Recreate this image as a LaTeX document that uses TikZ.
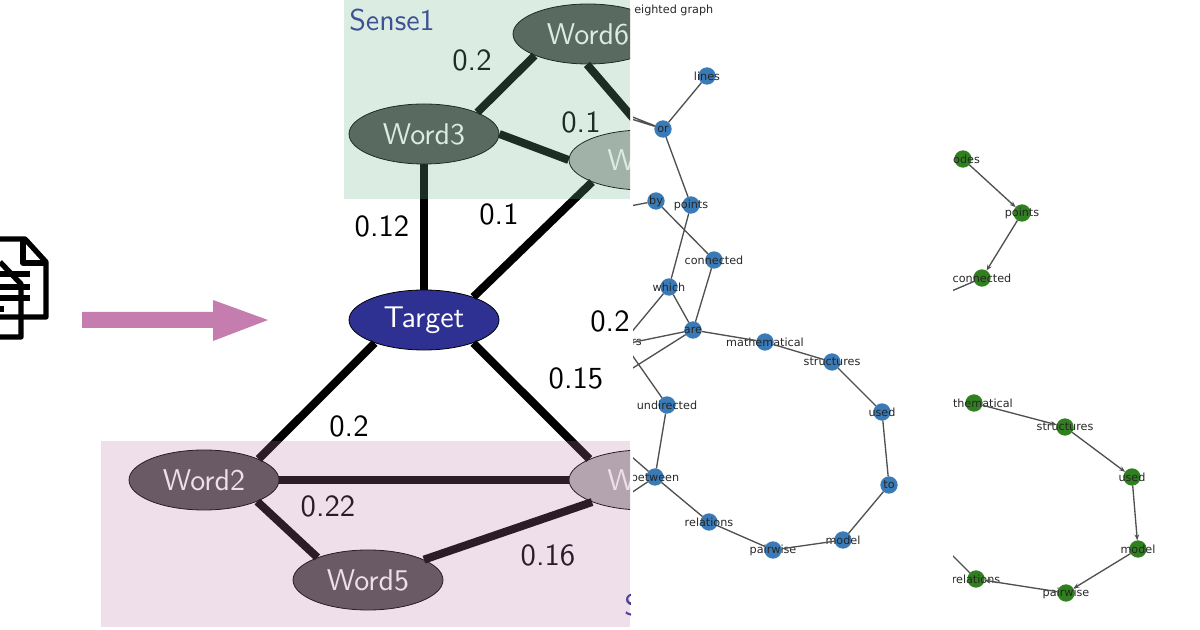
\documentclass[tikz,border=0pt]{standalone}
\usepackage{fontspec}
\setmainfont{DejaVu Sans}
\usetikzlibrary{arrows.meta,shapes.geometric}
\definecolor{navy}{RGB}{46,49,146}
\definecolor{sensegreen}{RGB}{112,184,144}
\definecolor{sensepink}{RGB}{187,119,170}
\definecolor{arrowpink}{RGB}{197,125,175}
\definecolor{netblue}{RGB}{58,122,182}
\definecolor{netgreen}{RGB}{48,128,32}
\definecolor{edgegray}{RGB}{80,80,80}
\newfontfamily\lm[OpticalSize=10]{Latin Modern Sans}
\tikzset{
  x=0.75pt,y=-0.75pt,
  wordnode/.style={ellipse,draw=black,line width=0.6pt,minimum width=112.5pt,minimum height=45pt,inner sep=0pt,text=white,font=\lm\fontsize{22.5}{24}\selectfont},
  dark/.style={wordnode,fill=black!68},
  pale/.style={wordnode,fill=black!30},
  thick edge/.style={line width=6pt,black},
  weight/.style={font=\lm\fontsize{23}{25}\selectfont,inner sep=0pt,text=black},
  sense/.style={font=\lm\fontsize{22.5}{24}\selectfont,inner sep=0pt,text=navy},
  blue net/.style={circle,fill=netblue,minimum size=13pt,inner sep=0pt,outer sep=0pt},
  green net/.style={circle,fill=netgreen,minimum size=13pt,inner sep=0pt,outer sep=0pt},
  netlabel/.style={font=\fontsize{8.4}{10}\selectfont,text=black!85,inner sep=0pt},
  net edge/.style={edgegray,line width=1pt},
  arrow edge/.style={net edge,-{Stealth[length=4.5pt,width=3.5pt]}},
}
\begin{document}
\begin{tikzpicture}
\useasboundingbox (0,0) rectangle (1200,630);
% icon
\begin{scope}
\clip (0,0) rectangle (60,630);
\draw[line width=4pt,line join=round,black] (25,239) -- (-20,239) -- (-20,317) -- (46,317) -- (46,262) -- cycle;
\draw[line width=4pt,line join=round,black] (23,240) -- (23,263) -- (46,263);
\draw[line width=4pt,line join=round,black] (0,262) -- (21,284) -- (21,337) -- (-20,337);
\foreach \yy in {274,287,298}{\draw[line width=4pt,black] (-5,\yy) -- (30,\yy);}
\draw[line width=4pt,black] (-5,309) -- (4,309);
\end{scope}
\fill[arrowpink] (82,312) -- (213,312) -- (213,300) -- (268,320) -- (213,341) -- (213,328) -- (82,328) -- cycle;
% left diagram
\begin{scope}
\clip (0,0) rectangle (630,630);
\node[dark] (word6) at (588,34) {Word6};
\node[dark] (word3) at (424,134) {Word3};
\node[pale] (word1) at (644,160) {};
\node[wordnode,fill=navy] (target) at (424,320) {Target};
\node[dark] (word2) at (204,480) {Word2};
\node[pale] (word4) at (644,480) {};
\node[dark] (word5) at (368,580) {Word5};
\draw[thick edge] (target) -- (word3);
\draw[thick edge] (target.25) -- (word1.203);
\draw[thick edge] (target.205) -- (word2.21);
\draw[thick edge] (target.-25) -- (word4.159);
\draw[thick edge] (word3.22) -- (word6.202);
\draw[thick edge] (word3.0) -- (word1.180);
\draw[thick edge] (word6.268) -- (word1.92);
\draw[thick edge] (word2) -- (word4);
\draw[thick edge] (word2.-22) -- (word5.156);
\draw[thick edge] (word5.20) -- (word4.203);
\node[wordnode,draw=none,anchor=west,minimum width=0pt,minimum height=0pt] (w1text) at (601,160) {W};
\node[wordnode,draw=none,anchor=west,minimum width=0pt,minimum height=0pt] (w4text) at (601,480) {W};
\node[weight] (w02a) at (472,60) {0.2};
\node[weight] (w01a) at (581,122) {0.1};
\node[weight] (w012) at (382,226) {0.12};
\node[weight] (w01b) at (499,214) {0.1};
\node[weight] (w022) at (328,506) {0.22};
\node[weight] (w016) at (548,555) {0.16};
\node[sense,anchor=west] (sense1) at (349,20) {Sense1};
\node[sense,anchor=west] (sense2) at (624,605) {S};
\fill[sensegreen,opacity=.25] (344,0) rectangle (630,199);
\fill[sensepink,opacity=.235] (101,441) rectangle (630,627);
\node[weight] (w02b) at (610,321) {0.2};
\node[weight] (w015) at (576,378) {0.15};
\node[weight] (w02c) at (349,426) {0.2};
\end{scope}
% network 1
\begin{scope}
\clip (633,0) rectangle (953,630);
\node[font=\fontsize{8.4}{10}\selectfont,text=black!85,inner sep=0pt,anchor=west] (title) at (634,10) {eighted graph};
\node[netlabel,anchor=east] (frag) at (642,342) {rs};
\foreach \n/\xx/\yy/\tx in {lines/707/76/lines,or/663/129/or,by/656/201/by,bpoints/691/205/points,bconn/714/260/connected,which/669/287/which,are/693/330/are,bmath/765/342/mathematical,bstruct/832/362/structures,bused/882/412/used,to/889/485/to,bmodel/843/540/model,bpair/773/550/pairwise,brel/709/522/relations,between/655/477/between,undir/667/405/undirected}{
  \node[blue net,label={[netlabel]center:\tx}] (\n) at (\xx,\yy) {};
}
\coordinate (a1) at (625,114);
\coordinate (a2) at (625,117);
\coordinate (a3) at (625,207);
\coordinate (a4) at (625,340);
\coordinate (a5) at (625,344);
\coordinate (a6) at (625,373);
\coordinate (a7) at (625,345);
\coordinate (a8) at (625,451);
\coordinate (a9) at (625,497);
\draw[net edge] (lines)--(or) (or)--(bpoints) (or)--(a1) (or)--(a2) (by)--(a3) (by)--(bconn) (bpoints)--(which) (bconn)--(are) (which)--(are) (which)--(a4) (are)--(a5) (are)--(a6) (a7)--(undir) (undir)--(between) (between)--(a8) (between)--(a9) (between)--(brel) (brel)--(bpair) (bpair)--(bmodel) (bmodel)--(to) (to)--(bused) (bused)--(bstruct) (bstruct)--(bmath) (bmath)--(are);
\end{scope}
% network 2
\begin{scope}
\clip (953,0) rectangle (1200,630);
\foreach \n/\xx/\yy/\tx in {gnodes/963/159/nodes,gpoints/1022/213/points,gconn/982/278/connected,gmath/974/403/mathematical,gstruct/1065/427/structures,gused/1132/477/used,gmodel/1138/549/model,gpair/1066/593/pairwise,grel/976/579/relations}{
  \node[green net,label={[netlabel]center:\tx}] (\n) at (\xx,\yy) {};
}
\coordinate (g1) at (940,296);
\coordinate (g2) at (940,543);
\draw[arrow edge] (gnodes)--(gpoints);
\draw[arrow edge] (gpoints)--(gconn);
\draw[net edge] (gconn)--(g1);
\draw[arrow edge] (gmath)--(gstruct);
\draw[arrow edge] (gstruct)--(gused);
\draw[arrow edge] (gused)--(gmodel);
\draw[arrow edge] (gmodel)--(gpair);
\draw[arrow edge] (gpair)--(grel);
\draw[net edge] (grel)--(g2);
\end{scope}
\end{tikzpicture}
\end{document}
